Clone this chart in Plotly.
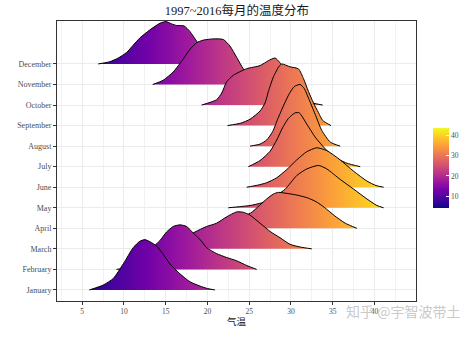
import plotly.graph_objects as go
from plotly.colors import sequential

# ---------------- data ----------------
months = ["January", "February", "March", "April", "May", "June",
          "July", "August", "September", "October", "November", "December"]

# temperature grid points (x) and ridge heights (h, in units of row spacing)
jan_x = [5.85, 7.52, 8.72, 9.92, 11.11, 11.9, 12.5, 13.1, 13.9, 14.7, 15.5, 16.7, 17.9, 19.1, 20.0, 20.9]
jan_h = [0, 0.24, 0.56, 1.27, 2.06, 2.37, 2.45, 2.35, 2.14, 1.74, 1.27, 0.79, 0.40, 0.19, 0.07, 0]

feb_x = [9.1, 10.2, 11.3, 12.3, 13.2, 13.7, 14.3, 15.1, 15.9, 16.7, 17.5, 18.3, 19.1, 19.9, 21.1, 22.3, 23.5, 24.7, 25.9]
feb_h = [0, 0.08, 0.3, 0.62, 0.95, 1.17, 1.4, 1.82, 2.09, 2.17, 2.09, 1.77, 1.46, 1.06, 0.77, 0.58, 0.42, 0.19, 0]

mar_x = [12.8, 14.5, 16.0, 17.2, 18.5, 19.9, 21.1, 22.3, 23.5, 24.3, 25.1, 26.3, 27.5, 28.7, 29.9, 31.1, 32.5]
mar_h = [0, 0.08, 0.25, 0.5, 0.82, 1.09, 1.25, 1.56, 1.80, 1.78, 1.64, 1.25, 0.85, 0.54, 0.22, 0.09, 0]

apr_x = [19.5, 21.0, 22.5, 24.0, 25.2, 26.2, 27.1, 27.9, 28.5, 29.5, 30.7, 32.0, 33.0, 34.0, 35.2, 36.5, 37.9]
apr_h = [0, 0.15, 0.35, 0.55, 0.75, 1.1, 1.43, 1.67, 1.75, 1.70, 1.62, 1.48, 1.3, 1.02, 0.62, 0.25, 0]

may_x = [22.5, 24.0, 25.1, 26.5, 27.5, 28.4, 29.3, 30.7, 31.9, 33.3, 34.3, 35.9, 37.5, 39.1, 40.3, 41.1]
may_h = [0, 0.06, 0.11, 0.24, 0.4, 0.65, 0.9, 1.57, 1.89, 2.06, 1.89, 1.38, 0.91, 0.43, 0.11, 0]

jun_x = [24.7, 26.0, 27.1, 28.3, 29.5, 30.7, 31.9, 33.1, 34.3, 35.9, 37.5, 39.1, 40.2, 41.1]
jun_h = [0, 0.1, 0.22, 0.46, 0.86, 1.33, 1.73, 1.92, 1.78, 1.33, 0.78, 0.30, 0.08, 0]

jul_x = [24.9, 26.3, 27.5, 28.3, 29.0, 29.7, 30.5, 31.0, 31.9, 32.9, 33.9, 35.1, 36.7, 38.3]
jul_h = [0, 0.3, 0.75, 1.3, 1.9, 2.35, 2.62, 2.62, 2.07, 1.44, 0.96, 0.49, 0.17, 0]

aug_x = [25.1, 26.3, 27.1, 27.8, 28.5, 29.2, 29.8, 30.4, 31.1, 31.6, 32.1, 32.9, 33.7, 34.7, 35.9]
aug_h = [0, 0.1, 0.3, 0.7, 1.4, 2.05, 2.55, 2.9, 3.0, 2.8, 2.34, 1.55, 0.76, 0.2, 0]

sep_x = [22.4, 24.0, 25.1, 26.3, 26.9, 27.3, 27.9, 28.6, 28.9, 29.9, 30.9, 31.5, 32.1, 32.7, 33.3, 33.8, 34.8]
sep_h = [0, 0.12, 0.31, 0.71, 1.1, 1.66, 2.37, 2.9, 3.0, 2.86, 2.76, 2.29, 1.66, 1.10, 0.63, 0.25, 0]

oct_x = [19.3, 21.1, 21.7, 22.3, 23.1, 24.7, 26.3, 27.3, 28.1, 28.6, 29.3, 30.2, 31.0, 31.8, 32.6, 33.8]
oct_h = [0, 0.26, 0.58, 1.13, 1.45, 1.77, 1.92, 2.16, 2.29, 2.1, 1.7, 1.15, 0.6, 0.25, 0.1, 0]

nov_x = [13.44, 14.71, 15.9, 17.1, 17.9, 18.7, 19.5, 20.7, 21.9, 22.7, 23.5, 24.3, 25.2, 26.2, 27.0]
nov_h = [0, 0.21, 0.61, 1.24, 1.71, 2.03, 2.16, 2.22, 2.19, 1.87, 1.32, 0.76, 0.35, 0.1, 0]

dec_x = [6.92, 8.32, 9.28, 10.32, 11.08, 11.92, 13.11, 14.31, 15.03, 15.71, 16.31, 17.19, 17.9, 18.7, 19.5, 20.5, 21.5, 22.5]
dec_h = [0, 0.11, 0.28, 0.56, 0.90, 1.27, 1.66, 1.98, 2.06, 1.95, 1.87, 1.85, 1.58, 1.11, 0.7, 0.35, 0.12, 0]

ridge_x = [jan_x, feb_x, mar_x, apr_x, may_x, jun_x, jul_x, aug_x, sep_x, oct_x, nov_x, dec_x]
ridge_h = [jan_h, feb_h, mar_h, apr_h, may_h, jun_h, jul_h, aug_h, sep_h, oct_h, nov_h, dec_h]

temp_min, temp_max = 4.2, 43.6          # colour-scale limits
x_ticks = [5, 10, 15, 20, 25, 30, 35, 40]
x_minor = [2.5, 7.5, 12.5, 17.5, 22.5, 27.5, 32.5, 37.5, 42.5]
cbar_ticks = [10, 20, 30, 40]

title_text = "1997~2016每月的温度分布"
x_title = "气温"
watermark = "知乎 @宇智波带土"

# ---------------- figure ----------------
SERIF = "Liberation Serif, Noto Sans CJK SC, serif"
plasma = sequential.Plasma
cs = [[i / (len(plasma) - 1), c] for i, c in enumerate(plasma)]

fig = go.Figure()
for i in reversed(range(len(months))):
    base = i + 1
    xs = ridge_x[i]
    ys = [base + h for h in ridge_h[i]]
    fig.add_trace(go.Scatter(
        x=xs, y=ys, mode="lines", fill="toself",
        fillgradient=dict(type="horizontal", colorscale=cs, start=temp_min, stop=temp_max),
        line=dict(width=0, shape="spline", smoothing=0.6),
        hoverinfo="skip", showlegend=False))
    fig.add_trace(go.Scatter(
        x=xs, y=ys, mode="lines",
        line=dict(color="black", width=1, shape="spline", smoothing=0.6),
        name=months[i], showlegend=False))

# colourbar carrier
fig.add_trace(go.Scatter(
    x=[temp_min], y=[0], mode="markers",
    marker=dict(size=1, opacity=0, color=[temp_min], colorscale=cs,
                cmin=temp_min, cmax=temp_max, showscale=True,
                colorbar=dict(thickness=16, thicknessmode="pixels",
                              len=80, lenmode="pixels",
                              x=1.047, xanchor="left", y=0.475, yanchor="middle",
                              xpad=0, ypad=0, outlinewidth=0,
                              tickvals=cbar_ticks, ticks="inside", ticklen=3,
                              tickcolor="white", tickwidth=1,
                              tickfont=dict(size=7.5, color="#4d4d4d", family=SERIF))),
    hoverinfo="skip", showlegend=False))

axis_common = dict(showline=True, mirror=True, linecolor="#333333", linewidth=1,
                   ticks="outside", ticklen=3, tickcolor="#333333", tickwidth=1,
                   showgrid=True, gridcolor="#ebebeb", gridwidth=1, zeroline=False)

fig.update_layout(
    width=474, height=338,
    margin=dict(l=57, r=57, t=21, b=30),
    plot_bgcolor="white", paper_bgcolor="white",
    title=dict(text=title_text, x=0.5, xanchor="center", y=1 - 11 / 338, yanchor="middle",
               font=dict(size=12.5, color="#1a1a1a", family=SERIF)),
    xaxis=dict(range=[1.98, 44.98], tickvals=x_ticks,
               tickfont=dict(size=7.5, color="#4d4d4d", family=SERIF),
               minor=dict(tickvals=x_minor, showgrid=True, gridcolor="#f2f2f2", gridwidth=0.6, ticks=""),
               title=dict(text=x_title, standoff=3, font=dict(size=9.5, color="#1a1a1a", family=SERIF)),
               **axis_common),
    yaxis=dict(range=[0.463, 14.09], tickvals=list(range(1, 13)), ticktext=months,
               tickfont=dict(size=8, color="#4d4d4d", family=SERIF),
               **axis_common),
    annotations=[dict(text=watermark, xref="paper", yref="paper",
                      x=(404 - 57) / 360, y=(308 - 318) / 287, xanchor="center", yanchor="middle",
                      showarrow=False,
                      font=dict(size=14, color="rgba(195,195,195,0.9)", family="Noto Sans CJK SC"))],
)

fig.write_html("out.html")
